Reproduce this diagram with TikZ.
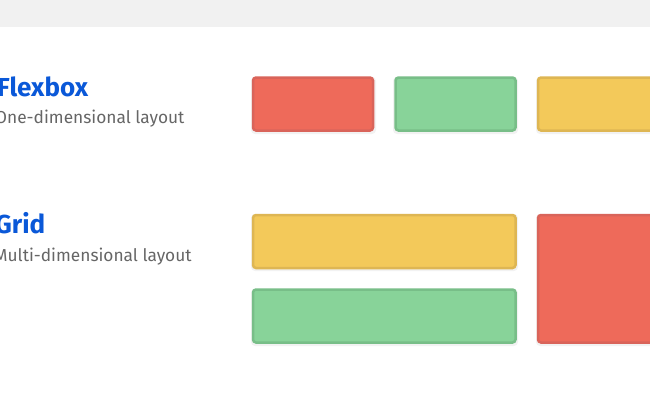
\documentclass[tikz,border=0pt]{standalone}
\usepackage{fontspec}
\setmainfont{Fira Sans}
\usetikzlibrary{positioning}
\definecolor{bandgray}{HTML}{F1F1F1}
\definecolor{titleblue}{HTML}{0A58D8}
\definecolor{subgray}{HTML}{666666}
\definecolor{redfill}{HTML}{EE6A5A}
\definecolor{redline}{HTML}{D9645A}
\definecolor{greenfill}{HTML}{88D399}
\definecolor{greenline}{HTML}{78BE88}
\definecolor{yellowfill}{HTML}{F3C95A}
\definecolor{yellowline}{HTML}{DEB653}
\tikzset{
  x=1pt, y=-1pt,
  blk/.style={rounded corners=3pt, line width=2.5pt},
  redblk/.style={blk, fill=redfill, draw=redline},
  greenblk/.style={blk, fill=greenfill, draw=greenline},
  yellowblk/.style={blk, fill=yellowfill, draw=yellowline},
  shadowblk/.style={rounded corners=4pt, fill=black, opacity=0.05},
  title/.style={anchor=base west, inner sep=0pt, text=titleblue, font=\fontsize{26}{30}\selectfont\bfseries},
  subtitle/.style={anchor=base west, inner sep=0pt, text=subgray, font=\fontsize{17.3}{20}\selectfont},
}
\begin{document}
\begin{tikzpicture}
\useasboundingbox (0,0) rectangle (650,400);
\fill[white] (0,0) rectangle (650,400);
\fill[bandgray] (0,0) rectangle (650,27);
% shadows
\fill[shadowblk] (251,77) rectangle (376,134);
\fill[shadowblk] (393,77) rectangle (518,134);
\fill[shadowblk] (536,77) rectangle (660,134);
\fill[shadowblk] (251,214) rectangle (518,271);
\fill[shadowblk] (251,289) rectangle (518,346);
\fill[shadowblk] (536,214) rectangle (660,346);
% flexbox row
\node[title] (ft) at (-3,96) {Flexbox};
\node[subtitle] (fs) at (-5,123) {One-dimensional layout};
\draw[redblk] (253,77.5) rectangle (373,130.5);
\node (f1) at (313,104) {};
\draw[greenblk] (395.5,77.5) rectangle (515.5,130.5);
\node (f2) at (455,104) {};
\draw[yellowblk] (538,77.5) rectangle (670,130.5);
\node (f3) at (600,104) {};
% grid
\node[title] (gt) at (-5,233) {Grid};
\node[subtitle] (gs) at (-6,261.5) {Multi-dimensional layout};
\draw[yellowblk] (253,215) rectangle (515.5,268);
\node (g1) at (384,241) {};
\draw[greenblk] (253,289.5) rectangle (515.5,342.5);
\node (g2) at (384,316) {};
\draw[redblk] (538,215) rectangle (670,342.5);
\node (g3) at (600,279) {};
\end{tikzpicture}
\end{document}
